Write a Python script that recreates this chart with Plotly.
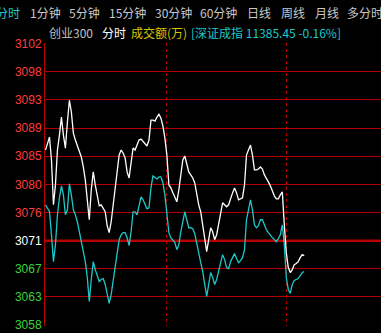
import plotly.graph_objects as go

# ---------------- data ----------------
prev_close = 3071.54
index_price = [
    3085.71, 3086.96, 3087.74, 3084.16, 3077.15, 3080.26, 3085.71, 3088.05, 3090.85, 3088.05,
    3086.02, 3090.07, 3093.50, 3091.63, 3088.36, 3087.27, 3086.49, 3085.71, 3084.62, 3083.07,
    3081.04, 3077.93, 3074.81, 3079.48, 3082.29, 3080.26, 3078.39, 3076.99, 3077.15, 3076.68,
    3076.06, 3073.88, 3072.79, 3074.50, 3077.15, 3079.79, 3082.91, 3084.93, 3085.71, 3085.25,
    3084.47, 3082.29, 3081.35, 3084.16, 3086.02, 3085.71, 3086.49, 3087.27, 3087.43, 3087.12,
    3086.80, 3086.34, 3087.27, 3090.39, 3090.39, 3090.23, 3090.85, 3091.32, 3090.70, 3089.45,
    3087.58, 3084.93, 3080.26, 3079.79, 3079.02, 3078.24, 3077.61, 3079.48, 3082.29, 3084.16,
    3084.78, 3083.38, 3082.29, 3081.82, 3081.35, 3080.57, 3078.70, 3077.15, 3076.06, 3074.03,
    3071.38, 3069.83, 3071.70, 3073.56, 3072.94, 3071.70, 3072.47, 3074.03, 3076.06, 3077.46,
    3077.15, 3076.84, 3077.15, 3078.24, 3079.02, 3079.79, 3079.02, 3077.93, 3078.08, 3078.24,
    3080.26, 3084.93, 3085.71, 3086.49, 3084.93, 3082.60, 3082.60, 3082.75, 3083.07, 3082.75,
    3081.82, 3081.35, 3080.73, 3080.11, 3079.17, 3078.55, 3078.08, 3078.08, 3078.70, 3079.17,
    3074.03, 3069.67, 3067.33, 3066.56, 3067.02, 3067.80, 3067.96, 3068.27, 3068.89, 3069.36,
    3069.20,
]
avg_price = [
    3077.15, 3076.68, 3076.06, 3072.47, 3068.27, 3070.92, 3075.59, 3078.24, 3080.11, 3078.70,
    3075.59, 3076.37, 3080.42, 3078.70, 3076.37, 3075.59, 3074.50, 3072.94, 3071.38, 3069.83,
    3068.27, 3065.78, 3062.04, 3065.47, 3068.27, 3067.02, 3066.09, 3065.15, 3065.47, 3065.62,
    3064.69, 3062.97, 3061.73, 3063.13, 3065.15, 3067.33, 3069.83, 3071.70, 3072.47, 3072.79,
    3072.79, 3072.01, 3070.76, 3072.94, 3076.06, 3076.06, 3075.59, 3077.30, 3078.39, 3077.93,
    3077.15, 3076.52, 3076.68, 3079.79, 3081.66, 3081.35, 3081.20, 3081.51, 3081.51, 3080.57,
    3078.70, 3075.75, 3072.79, 3072.01, 3071.70, 3071.23, 3070.14, 3070.92, 3072.94, 3074.81,
    3076.06, 3074.81, 3073.56, 3073.56, 3073.41, 3072.63, 3070.92, 3069.36, 3068.11, 3066.71,
    3064.69, 3062.82, 3064.69, 3066.56, 3065.78, 3064.69, 3065.47, 3066.71, 3068.11, 3069.36,
    3068.58, 3067.33, 3067.18, 3068.27, 3068.89, 3069.52, 3068.74, 3068.11, 3068.42, 3068.89,
    3070.14, 3074.81, 3076.37, 3077.93, 3076.37, 3074.03, 3073.56, 3073.88, 3074.81, 3074.81,
    3074.03, 3073.25, 3072.79, 3072.32, 3072.01, 3071.70, 3071.38, 3071.85, 3072.47, 3074.03,
    3070.92, 3065.78, 3063.91, 3063.29, 3064.69, 3065.31, 3065.47, 3065.62, 3066.09, 3066.56,
    3066.71,
]
minutes = list(range(len(index_price)))

tick_vals = [3058.34, 3062.74, 3067.14, 3071.54, 3075.94, 3080.34, 3084.74,
             3089.14, 3093.54, 3097.94, 3102.34]
tick_labels = ["3058", "3063", "3067", "3071", "3076", "3080", "3085",
               "3089", "3093", "3098", "3102"]
hour_marks = [61, 121]

menu_items = ["分时", "1分钟", "5分钟", "15分钟", "30分钟", "60分钟", "日线", "周线", "月线", "多分时"]
title_parts = ["创业300", "分时", "成交额(万)", "[深证成指 11385.45 -0.16%]"]

# ---------------- style ----------------
BG = "#000000"
GRID = "#b40000"
RED_TXT = "#ff3c3c"
GREEN_TXT = "#3cd23c"
WHITE = "#ffffff"
CYAN = "#1cc8c8"

W, H = 381, 333
L, R, T, B = 45, 0, 43, 7
pw, ph = W - L - R, H - T - B

def px_to_paper(px, py):
    return (px - L) / pw, (H - B - py) / ph

def label_color(v):
    if abs(v - prev_close) < 0.5:
        return WHITE
    return RED_TXT if v > prev_close else GREEN_TXT

ticktext = [f'<span style="color:{label_color(v)}">{t}</span>'
            for v, t in zip(tick_vals, tick_labels)]

fig = go.Figure()
fig.add_trace(go.Scatter(x=minutes, y=avg_price, mode="lines",
                         line=dict(color=CYAN, width=1.3), hoverinfo="skip"))
fig.add_trace(go.Scatter(x=minutes, y=index_price, mode="lines",
                         line=dict(color=WHITE, width=1.3), hoverinfo="skip"))

fig.add_shape(type="line", xref="paper", yref="y", x0=0, x1=1,
              y0=prev_close, y1=prev_close, line=dict(color=GRID, width=2.5), layer="below")

x_right = -0.25 + pw / 1.99
fig.update_layout(
    width=W, height=H,
    margin=dict(l=L, r=R, t=T, b=B, pad=0),
    paper_bgcolor=BG, plot_bgcolor=BG,
    showlegend=False,
    xaxis=dict(range=[-0.25, x_right], showticklabels=False, ticks="",
               tickvals=hour_marks, showgrid=True, gridcolor=GRID, griddash="dot",
               gridwidth=1, zeroline=False, showline=False, fixedrange=True),
    yaxis=dict(range=[3058.2, 3102.45], tickvals=tick_vals, ticktext=ticktext,
               showgrid=True, gridcolor=GRID, gridwidth=1, zeroline=False,
               showline=True, linecolor=GRID, linewidth=1, ticks="",
               tickfont=dict(family="Liberation Sans, Arial", size=12),
               fixedrange=True),
)

menu_x = [-6, 28, 67, 107, 153, 198, 245, 279, 313, 345]
for i, (txt, mx) in enumerate(zip(menu_items, menu_x)):
    ax, ay = px_to_paper(mx, 12)
    fig.add_annotation(text=txt, x=ax, y=ay, xref="paper", yref="paper",
                       xanchor="left", yanchor="middle", showarrow=False,
                       font=dict(family="Noto Sans CJK SC", size=12,
                                 color=CYAN if i == 0 else "#c8c8c8"))

title_x = [47, 100, 129, 189]
title_cols = ["#c0c0c0", WHITE, "#d2c800", CYAN]
for txt, tx, col in zip(title_parts, title_x, title_cols):
    ax, ay = px_to_paper(tx, 33)
    fig.add_annotation(text=txt, x=ax, y=ay, xref="paper", yref="paper",
                       xanchor="left", yanchor="middle", showarrow=False,
                       font=dict(family="Noto Sans CJK SC", size=12, color=col))

fig.write_html("out.html", config={"displayModeBar": False})
